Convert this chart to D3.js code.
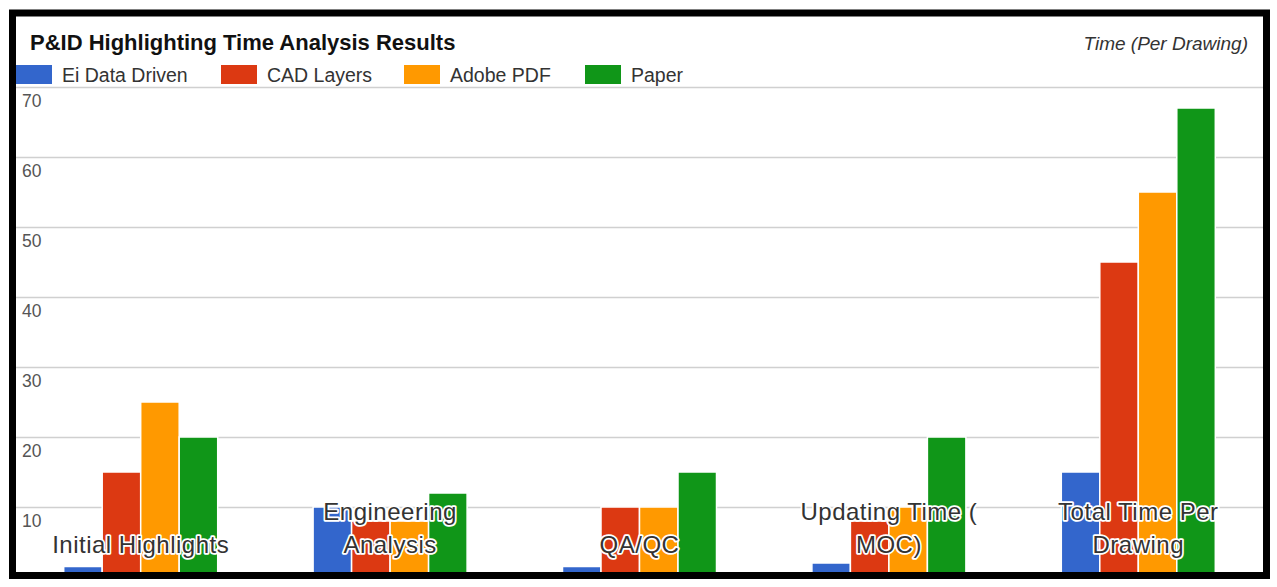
<!DOCTYPE html>
<html><head><meta charset="utf-8">
<script src="https://cdn.jsdelivr.net/npm/d3@7"></script>
<style>body{margin:0;background:#fff}svg{display:block}</style>
</head><body>
<svg id="c" width="1277" height="587"></svg>
<script>
const categories = ["Initial Highlights","Engineering Analysis","QA/QC","Updating Time ( MOC)","Total Time Per Drawing"];
const categoryLines = [["Initial Highlights"],["Engineering","Analysis"],["QA/QC"],["Updating Time (","MOC)"],["Total Time Per","Drawing"]];
const seriesNames = ["Ei Data Driven","CAD Layers","Adobe PDF","Paper"];
const seriesColors = ["#3366cc","#dc3912","#ff9900","#109618"];
const eiData = [1.5, 10, 1.5, 2, 15];
const cadLayers = [15, 8, 10, 8, 45];
const adobePdf = [25, 8, 10, 10, 55];
const paper = [20, 12, 15, 20, 67];
const yTicks = [10,20,30,40,50,60,70];
const title = "P&ID Highlighting Time Analysis Results";
const axisTitle = "Time (Per Drawing)";

const values = [eiData, cadLayers, adobePdf, paper];
const svg = d3.select("#c");
const font = "'Liberation Sans', Arial, sans-serif";

svg.append("rect").attr("width",1277).attr("height",587).attr("fill","#fff");

const x0 = d3.scaleBand().domain(categories).range([16,1263]).paddingInner(0).paddingOuter(0);
const groupW = 154;
const x1 = d3.scaleBand().domain(seriesNames).range([0,groupW]).padding(0);
const y = d3.scaleLinear().domain([0,70]).range([577,87]);

// gridlines
svg.append("g").selectAll("line").data(yTicks).join("line")
  .attr("x1",16).attr("x2",1263)
  .attr("y1",d=>Math.round(y(d))+0.5).attr("y2",d=>Math.round(y(d))+0.5)
  .attr("stroke","#d0d0d0").attr("stroke-width",1.5);

// tick labels
svg.append("g").selectAll("text").data(yTicks).join("text")
  .attr("x",22).attr("y",d=>y(d)+20)
  .attr("font-family",font).attr("font-size",17.5).attr("fill","#555")
  .text(d=>d);

// bars
const groups = svg.append("g").selectAll("g").data(categories).join("g")
  .attr("transform",c=>`translate(${x0(c)+(x0.bandwidth()-groupW)/2},0)`);
groups.selectAll("rect").data((c,i)=>seriesNames.map((s,j)=>({s,v:values[j][i],j})))
  .join("rect")
  .attr("x",d=>x1(d.s)).attr("width",x1.bandwidth())
  .attr("y",d=>y(d.v)).attr("height",d=>y(0)-y(d.v))
  .attr("fill",d=>seriesColors[d.j]).attr("stroke","#fff").attr("stroke-width",1.5);

// category labels
const lab = svg.append("g").selectAll("text").data(categories).join("text")
  .attr("text-anchor","middle").attr("font-family",font).attr("font-size",24)
  .attr("letter-spacing",0.5)
  .attr("fill","#333").attr("stroke","#fff").attr("stroke-width",3.5)
  .attr("paint-order","stroke").attr("stroke-linejoin","round")
  .attr("transform",c=>`translate(${x0(c)+x0.bandwidth()/2},0)`);
lab.each(function(c,i){
  const lines = categoryLines[i];
  const t = d3.select(this);
  lines.forEach((l,k)=>{
    t.append("tspan").attr("x",0).attr("y",553-(lines.length-1-k)*33).text(l);
  });
});

// title
svg.append("text").attr("x",30).attr("y",50).attr("font-family",font)
  .attr("font-size",22).attr("font-weight","bold").attr("fill","#111").text(title);
svg.append("text").attr("x",1248).attr("y",50).attr("text-anchor","end")
  .attr("font-family",font).attr("font-size",19).attr("font-style","italic")
  .attr("fill","#333").text(axisTitle);

// legend
const legX = [16,221,404,585];
const leg = svg.append("g").selectAll("g").data(seriesNames).join("g")
  .attr("transform",(d,i)=>`translate(${legX[i]},0)`);
leg.append("rect").attr("x",0).attr("y",65).attr("width",36).attr("height",19)
  .attr("fill",(d,i)=>seriesColors[i]);
leg.append("text").attr("x",46).attr("y",82).attr("font-family",font)
  .attr("font-size",19.5).attr("fill","#333").text(d=>d);

// frame
svg.append("rect").attr("x",12.5).attr("y",13).attr("width",1254).attr("height",562.5)
  .attr("fill","none").attr("stroke","#000").attr("stroke-width",7);
</script>
</body></html>
